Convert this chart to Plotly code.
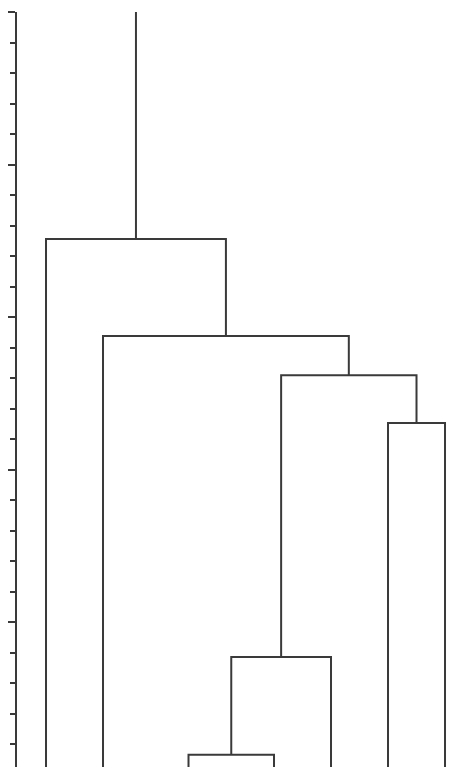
import plotly.graph_objects as go

# Dendrogram data: 8 leaves, merges (left cluster, right cluster, height)
leaves = [1, 2, 3, 4, 5, 6, 7, 8]
merge_left = ["L3", "M1", "M2", "L7", "M3", "L2", "L1"]
merge_right = ["L4", "L5", "L6", "L8", "M4", "M5", "M6"]
merge_height = [0.07, 0.66, 3.87, 11.53, 13.1, 14.38, 17.56]
root_top = 25.0

pos = {f"L{i}": (float(i), 0.0) for i in leaves}
xs, ys = [], []
for k, (a, b, h) in enumerate(zip(merge_left, merge_right, merge_height), start=1):
    xa, ha = pos[a]
    xb, hb = pos[b]
    xs += [xa, xa, xb, xb, None]
    ys += [ha, h, h, hb, None]
    pos[f"M{k}"] = ((xa + xb) / 2, h)
xr, hr = pos[f"M{len(merge_height)}"]
xs += [xr, xr, None]
ys += [hr, root_top, None]

fig = go.Figure(go.Scatter(x=xs, y=ys, mode="lines",
                           line=dict(color="#3a3a3a", width=2), hoverinfo="skip"))
fig.update_layout(
    width=474, height=767, margin=dict(l=9, r=0, t=4, b=0),
    plot_bgcolor="white", paper_bgcolor="white", showlegend=False,
    xaxis=dict(range=[0.491, 8.649], visible=False),
    yaxis=dict(range=[0, 25], showgrid=False, zeroline=False, showline=True,
               linecolor="#3a3a3a", linewidth=2, ticks="outside", tickmode="linear",
               tick0=0, dtick=5, ticklen=9, tickwidth=2, tickcolor="#3a3a3a",
               showticklabels=False,
               minor=dict(ticks="outside", dtick=1, ticklen=5, tickwidth=2,
                          tickcolor="#3a3a3a", showgrid=False)),
)
fig.write_html("out.html")
